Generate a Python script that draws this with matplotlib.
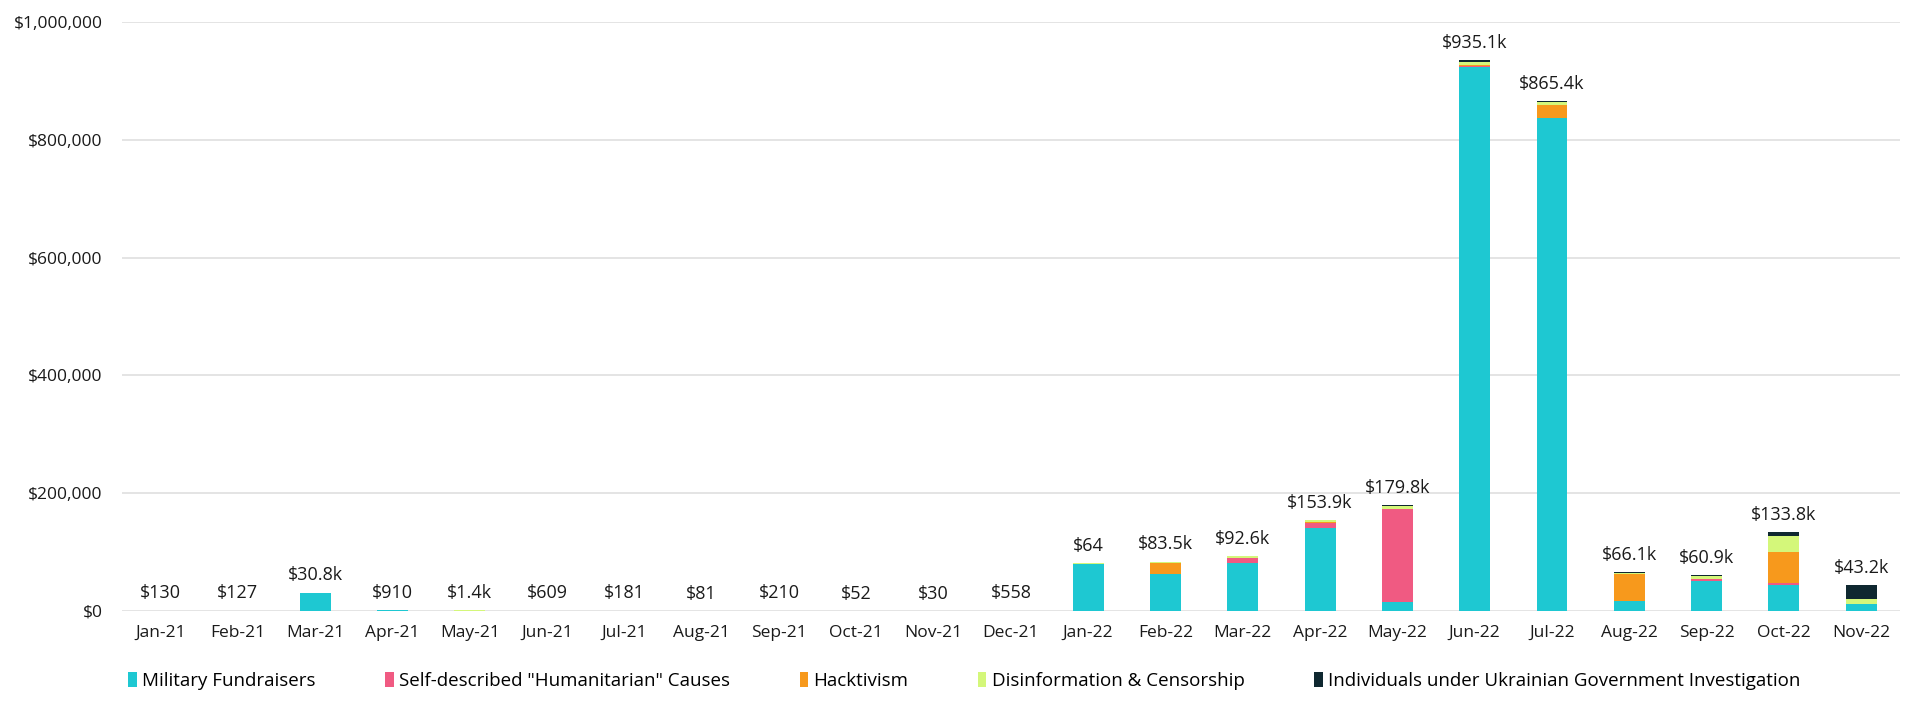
import numpy as np
import matplotlib.pyplot as plt
from matplotlib.ticker import FuncFormatter

# Months shown on the x axis
months = ['Jan-21', 'Feb-21', 'Mar-21', 'Apr-21', 'May-21', 'Jun-21', 'Jul-21',
          'Aug-21', 'Sep-21', 'Oct-21', 'Nov-21', 'Dec-21', 'Jan-22', 'Feb-22',
          'Mar-22', 'Apr-22', 'May-22', 'Jun-22', 'Jul-22', 'Aug-22', 'Sep-22',
          'Oct-22', 'Nov-22']

# Stacked values in USD (thousands)
military = [0.13, 0.127, 30.2, 0.91, 0.2, 0.609, 0.181, 0.081, 0.21, 0.052, 0.03, 0.558,
            79.3, 63.5, 80.5, 140.4, 14.8, 924.0, 836.6, 16.5, 50.5, 44.5, 12.5]
humanitarian = [0, 0, 0, 0, 0, 0, 0, 0, 0, 0, 0, 0,
                0, 0, 8.7, 9.1, 158.5, 2.0, 0.3, 0.5, 3.5, 3.5, 0]
hacktivism = [0, 0, 0, 0, 0, 0, 0, 0, 0, 0, 0, 0,
              0, 17.7, 0, 1.0, 0, 1.0, 22.5, 45.5, 1.0, 51.5, 0]
disinfo = [0, 0, 0.6, 0, 1.2, 0, 0, 0, 0, 0, 0, 0,
           1.4, 2.3, 3.4, 3.4, 4.0, 5.5, 4.3, 2.5, 5.0, 27.0, 8.5]
investigation = [0, 0, 0, 0, 0, 0, 0, 0, 0, 0, 0, 0,
                 0, 0, 0, 0, 2.5, 2.6, 1.7, 1.1, 0.9, 7.3, 22.2]

# Total labels as printed on the chart
totals_text = ['$130', '$127', '$30.8k', '$910', '$1.4k', '$609', '$181', '$81', '$210',
               '$52', '$30', '$558', '$64', '$83.5k', '$92.6k', '$153.9k', '$179.8k',
               '$935.1k', '$865.4k', '$66.1k', '$60.9k', '$133.8k', '$43.2k']

series = [
    ('Military Fundraisers', military, '#1ec8d2'),
    ('Self-described "Humanitarian" Causes', humanitarian, '#f05a82'),
    ('Hacktivism', hacktivism, '#f7991c'),
    ('Disinformation & Censorship', disinfo, '#d4f77a'),
    ('Individuals under Ukrainian Government Investigation', investigation, '#0f2830'),
]

plt.rcParams['font.family'] = ['Open Sans', 'DejaVu Sans']

fig = plt.figure(figsize=(19.2, 7.12), dpi=100)
ax = fig.add_axes([0.0635, 0.142, 0.926, 0.827])

x = np.arange(len(months))
bottom = np.zeros(len(months))
for name, vals, color in series:
    v = np.array(vals) * 1000
    ax.bar(x, v, 0.4, bottom=bottom, color=color, label=name, zorder=3)
    bottom += v

for xi, top, txt in zip(x, bottom, totals_text):
    ax.annotate(txt, (xi, top), xytext=(0, 6), textcoords='offset points',
                ha='center', va='bottom', fontsize=13, color='#1a1a1a')

ax.set_ylim(0, 1000000)
ax.set_xlim(-0.5, len(months) - 0.5)
ax.set_yticks(np.arange(0, 1000001, 200000))
ax.yaxis.set_major_formatter(FuncFormatter(lambda v, p: '${:,.0f}'.format(v)))
ax.set_xticks(x)
ax.set_xticklabels(months)
ax.tick_params(axis='both', length=0, labelsize=12.5, colors='#1a1a1a')
ax.tick_params(axis='x', pad=10)
ax.tick_params(axis='y', pad=14)
ax.grid(axis='y', color='#e2e2e2', linewidth=1.3, zorder=0)
for s in ['top', 'right', 'left', 'bottom']:
    ax.spines[s].set_visible(False)

ax.legend(loc='upper left', bbox_to_anchor=(-0.006, -0.075), ncol=5, frameon=False,
          fontsize=13.5, handlelength=0.45, handleheight=0.9, handletextpad=0.3,
          columnspacing=3.7)

fig.savefig('out.png', dpi=100)
